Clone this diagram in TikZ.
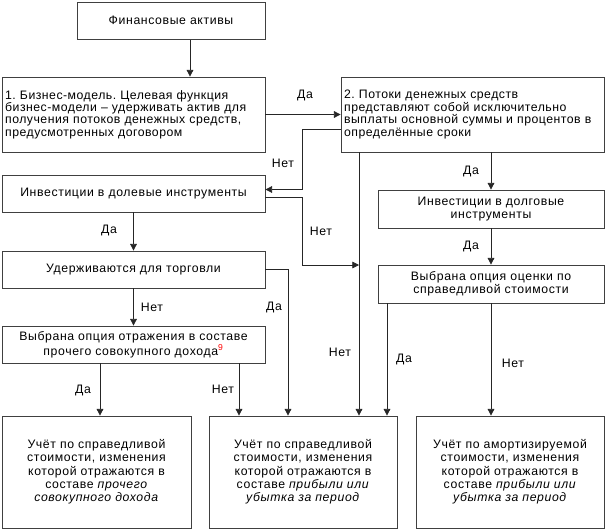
\documentclass[tikz,border=0pt]{standalone}
\usepackage{fontspec}
\setmainfont{Liberation Sans}[LetterSpace=5]
\usetikzlibrary{arrows.meta,calc}
\frenchspacing

\begin{document}
\begin{tikzpicture}[x=0.75pt, y=-0.75pt,
  font=\fontsize{9.2}{10}\selectfont,
  box/.style={draw=black!75, line width=0.6pt, inner sep=0pt, align=center},
  wh/.style 2 args={minimum width=#1*0.75pt, minimum height=#2*0.75pt},
  note/.style={box, align=left, text width=192.5pt,
    font=\fontsize{9.2}{9.3}\selectfont\addfontfeatures{LetterSpace=4}},
  arr/.style={-{Triangle[length=5pt,width=5pt]}, line width=0.6pt, black!85},
  lbl/.style={inner sep=0pt}]
  \useasboundingbox (0,0) rectangle (606,531);

  % boxes
  \node[box, wh={188}{37.5}] (fin) at (171,20.75) {Финансовые активы};
  \node[note, wh={263}{75}] (bm) at (133.5,114.5)
    {1. Бизнес-модель. Целевая функция\\бизнес-модели -- удерживать актив для\\получения потоков денежных средств,\\предусмотренных договором};
  \node[note, wh={263}{75}] (cf) at (472.5,114.5)
    {2. Потоки денежных средств\\представляют собой исключительно\\выплаты основной суммы и процентов в\\определённые сроки};
  \node[box, wh={263}{37}] (eq) at (133.5,193.5) {Инвестиции в долевые инструменты};
  \node[box, wh={263}{37}] (trade) at (133.5,269.5) {Удерживаются для торговли};
  \node[box, wh={263}{37}] (oci) at (133.5,344.5)
    {Выбрана опция отражения в составе\\прочего совокупного дохода\textsuperscript{\textcolor{red}{9}}};
  \node[box, wh={226}{38}] (debt) at (491,209) {Инвестиции в долговые\\инструменты};
  \node[box, wh={226}{38}] (fvo) at (491,284) {Выбрана опция оценки по\\справедливой стоимости};
  \node[box, wh={189}{112}] (lft) at (96.5,472)
    {Учёт по справедливой\\стоимости, изменения\\которой отражаются в\\составе \textit{прочего}\\\textit{совокупного дохода}};
  \node[box, wh={188}{112}] (mid) at (303,472)
    {Учёт по справедливой\\стоимости, изменения\\которой отражаются в\\составе \textit{прибыли или}\\\textit{убытка за период}};
  \node[box, wh={188}{112}] (rgt) at (510,472)
    {Учёт по амортизируемой\\стоимости, изменения\\которой отражаются в\\составе \textit{прибыли или}\\\textit{убытка за период}};

  % columns and bends
  \coordinate (xa) at (190,0);
  \coordinate (bus) at (302,0);
  \coordinate (xt) at (288,0);
  \coordinate (hub) at (359,265);
  \coordinate (xf) at (387,0);
  \coordinate (xoy) at (100,0);
  \coordinate (xon) at (239,0);

  % connectors
  \draw[arr] (fin.south -| xa) -- (bm.north -| xa);
  \draw[arr] (bm.east) -- (cf.west);
  \draw[arr] ($(cf.west)+(0,15)$) -| ($(bus |- eq.east)+(0,-4)$) -- ($(eq.east)+(0,-4)$);
  \draw[arr] ($(eq.east)+(0,4)$) -| (bus |- hub) -- (hub);
  \draw[arr] (cf.south -| hub) -- (mid.north -| hub);
  \draw[arr] (cf.south -| debt.north) -- (debt.north);
  \draw[arr] (debt) -- (fvo);
  \draw[arr] (fvo.south -| xf) -- (mid.north -| xf);
  \draw[arr] (fvo.south) -- (rgt.north -| fvo.south);
  \draw[arr] (eq) -- (trade);
  \draw[arr] (trade.east) -| (mid.north -| xt);
  \draw[arr] (trade) -- (oci);
  \draw[arr] (oci.south -| xoy) -- (lft.north -| xoy);
  \draw[arr] (oci.south -| xon) -- (mid.north -| xon);

  % labels
  \node[lbl] (l1) at (305,96) {Да};
  \node[lbl] (l2) at (283,163) {Нет};
  \node[lbl] (l3) at (321,231) {Нет};
  \node[lbl] (l4) at (340,352) {Нет};
  \node[lbl] (l5) at (471,172) {Да};
  \node[lbl] (l6) at (471,247) {Да};
  \node[lbl] (l7) at (404,359) {Да};
  \node[lbl] (l8) at (513,363) {Нет};
  \node[lbl] (l9) at (109,231) {Да};
  \node[lbl] (l10) at (274,307) {Да};
  \node[lbl] (l11) at (152,307) {Нет};
  \node[lbl] (l12) at (83,390) {Да};
  \node[lbl] (l13) at (223,389) {Нет};
\end{tikzpicture}
\end{document}
